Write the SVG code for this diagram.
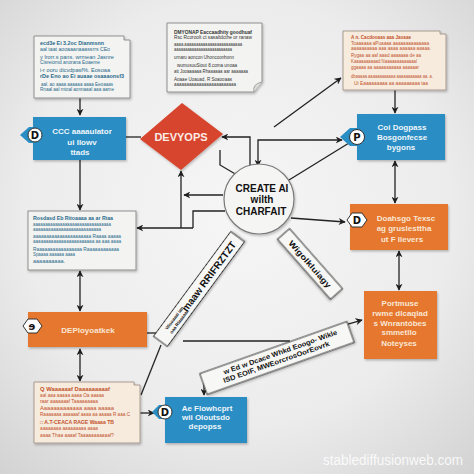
<svg xmlns="http://www.w3.org/2000/svg" width="474" height="474" viewBox="0 0 474 474">
<defs>
<radialGradient id="bg" cx="0.5" cy="0.45" r="0.75">
<stop offset="0" stop-color="#f6f6f6"/>
<stop offset="0.6" stop-color="#ececec"/>
<stop offset="1" stop-color="#d2d2d2"/>
</radialGradient>
<marker id="ah" viewBox="0 0 10 10" refX="9" refY="5" markerWidth="7" markerHeight="7" orient="auto-start-reverse" markerUnits="userSpaceOnUse">
<path d="M0,0 L10,5 L0,10 L3,5 Z" fill="#1e1e1e"/>
</marker>
<filter id="sh" x="-10%" y="-10%" width="120%" height="130%">
<feDropShadow dx="1" dy="1.5" stdDeviation="1.2" flood-color="#000" flood-opacity="0.25"/>
</filter>
<style>
.con{fill:none;stroke:#222;stroke-width:1.3}
.note{fill:#f3f3f1;stroke:#8f8f8f;stroke-width:1;filter:url(#sh)}
.beige{fill:#f7ebde;stroke:#a89a90;stroke-width:1;filter:url(#sh)}
.blue{fill:#2a8dc3;filter:url(#sh)}
.orange{fill:#e5772f;filter:url(#sh)}
.tt{font-family:"Liberation Sans",Arial,sans-serif;font-size:4.6px;fill:#2a6b8c}
.td{font-family:"Liberation Sans",Arial,sans-serif;font-size:4.6px;fill:#333}
.tr{font-family:"Liberation Sans",Arial,sans-serif;font-size:4.6px;fill:#c2532c}
.b{font-weight:bold}
.wt{font-family:"Liberation Sans",Arial,sans-serif;font-size:8px;font-weight:bold;fill:#eef6fb;text-anchor:middle}
.ot{font-family:"Liberation Sans",Arial,sans-serif;font-size:8px;font-weight:bold;fill:#fae6d4;text-anchor:middle}
.tag{fill:#fff;stroke:#333;stroke-width:1}
.tagt{font-family:"DejaVu Sans",sans-serif;font-size:10px;font-weight:bold;fill:#111;text-anchor:middle}
.rib{fill:#f7f7f5;stroke:#333;stroke-width:1;filter:url(#sh)}
.rt{font-family:"Liberation Sans Narrow","Liberation Sans",sans-serif;font-weight:bold;fill:#111;text-anchor:middle}
</style>
</defs>
<rect width="474" height="474" fill="url(#bg)"/>

<g id="connectors">
<path class="con" d="M80,98 V115" marker-end="url(#ah)"/>
<path class="con" d="M80,160 V210" marker-end="url(#ah)"/>
<path class="con" d="M80,271 V311" marker-start="url(#ah)" marker-end="url(#ah)"/>
<path class="con" d="M80,349 V381" marker-start="url(#ah)" marker-end="url(#ah)"/>
<path class="con" d="M126,137 H141"/>
<path class="con" d="M222,137 H250 V166" marker-start="url(#ah)"/>
<path class="con" d="M220,150 V165 L237,175"/>
<path class="con" d="M258,166 V140 H342" marker-start="url(#ah)" marker-end="url(#ah)"/>
<path class="con" d="M289,180 L349,143"/>
<path class="con" d="M274,127 L341,78" marker-end="url(#ah)"/>
<path class="con" d="M395,90 V113" marker-end="url(#ah)"/>
<path class="con" d="M395,161 V203" marker-start="url(#ah)" marker-end="url(#ah)"/>
<path class="con" d="M399,251 V290" marker-start="url(#ah)" marker-end="url(#ah)"/>
<path class="con" d="M291,218 L345,222" marker-end="url(#ah)"/>
<path class="con" d="M181,228 V171" marker-end="url(#ah)"/>
<path class="con" d="M193,228 H137" marker-end="url(#ah)"/>
<path class="con" d="M193,228 V211 H225"/>
<path class="con" d="M223,195 H184" marker-end="url(#ah)"/>
<path class="con" d="M147,333 H159"/>
<path class="con" d="M183,341 H290"/>
<path class="con" d="M161,345 L141,395"/>
<path class="con" d="M140,413 H154" marker-end="url(#ah)"/>
<path class="con" d="M204,380 V395" marker-end="url(#ah)"/>
<path class="con" d="M348,324 L362,320" marker-end="url(#ah)"/>
</g>

<g id="note-top-left">
<polygon class="note" points="34,36 124,36 124,40 130,40 130,98 34,98"/>
<text class="tt b" x="40" y="45" textLength="64" lengthAdjust="spacingAndGlyphs">ecd3e Ei 3.2oc Dianmsnn</text>
<text class="tt" x="40" y="51" textLength="70" lengthAdjust="spacingAndGlyphs">aal taat aooaaanaaassrrs CEo</text>
<text class="tt" x="40" y="59" textLength="74" lengthAdjust="spacingAndGlyphs">y lrorr.s pans. wrmean   Jasnre</text>
<text class="tt" x="40" y="64" textLength="60" lengthAdjust="spacingAndGlyphs">Cisreiomd anorana Eoaeme</text>
<text class="tt" x="40" y="72" textLength="70" lengthAdjust="spacingAndGlyphs">i-r ooru dicvdpasf%. Eosoaa</text>
<text class="tt b" x="40" y="78" textLength="84" lengthAdjust="spacingAndGlyphs">rDe Eno ao Ei auaae osaaaonsf3</text>
<text class="tt" x="41" y="86" textLength="72" lengthAdjust="spacingAndGlyphs">aal. ao aaaa aaaaaa aaaa Eeoaaas</text>
<text class="tt" x="40" y="91" textLength="74" lengthAdjust="spacingAndGlyphs">Rnaal aal mtoal aonnaaal aaa aame</text>
</g>

<g id="note-top-center">
<path class="note" d="M167,23 H262 V82 Q258,86 254,92 H167 Z"/>
<path d="M254,92 Q252,84 262,82" fill="#dcdcda" stroke="#8f8f8f" stroke-width="0.8"/>
<text class="td b" x="174" y="34" textLength="78" lengthAdjust="spacingAndGlyphs">DMYONAP  Eaccaadhity goodhuaf</text>
<text class="td" x="174" y="39" textLength="78" lengthAdjust="spacingAndGlyphs">Rsc Rcoroolt ct sasaltdcthe or ranaw</text>
<text class="td" x="174" y="46" textLength="68" lengthAdjust="spacingAndGlyphs">aaaa.aaaaaaaaaaaaaaaaaaaaaaaaa</text>
<text class="td" x="174" y="51" textLength="58" lengthAdjust="spacingAndGlyphs">aaaaaaaaaaaaaaaaaaaaaaaaaa</text>
<text class="td" x="174" y="59" textLength="60" lengthAdjust="spacingAndGlyphs">urnaru aoncon Uhoncoonhonn</text>
<text class="td" x="177" y="67" textLength="60" lengthAdjust="spacingAndGlyphs">wumusuuSiout 8.coma unoaa</text>
<text class="td" x="174" y="73" textLength="74" lengthAdjust="spacingAndGlyphs">att Jooaaaaaa Rhaaaaaa aar aaaaaaa</text>
<text class="td" x="174" y="81" textLength="58" lengthAdjust="spacingAndGlyphs">Aoaae Uoauad, R Soaooaas</text>
<text class="td" x="174" y="86" textLength="62" lengthAdjust="spacingAndGlyphs">aaaaaaaaaaaaaaaaaaaaaaaaa</text>
</g>

<g id="note-top-right">
<polygon class="beige" points="343,31 440,31 440,34 446,34 446,90 343,90"/>
<text class="tr b" x="351" y="39" textLength="60" lengthAdjust="spacingAndGlyphs">A n. Cacdooaas aaa Jaoaae</text>
<text class="tr" x="351" y="44.5" textLength="78" lengthAdjust="spacingAndGlyphs">Toaaaaaa aPuaaaa aaaaaaaaaaaaaa</text>
<text class="tr" x="351" y="50" textLength="80" lengthAdjust="spacingAndGlyphs">aaaaaaaaaa aaa aaaa aaaaaa aaaaa.</text>
<text class="tr" x="351" y="57" textLength="70" lengthAdjust="spacingAndGlyphs">Rygaa aa aaf aaad aaaaaaa de aa</text>
<text class="tr" x="351" y="62.5" textLength="66" lengthAdjust="spacingAndGlyphs">Kaaaaaaaaaad Naaaaaaaaaaaaal</text>
<text class="tr" x="351" y="69" textLength="68" lengthAdjust="spacingAndGlyphs">ggaaaa aa aaaaaaaaaaa aaaaaar</text>
<text class="tr" x="351" y="78" textLength="82" lengthAdjust="spacingAndGlyphs">dbaaaaa aaaaaaaaaaaa aaaaaaaaaaa aa. a.</text>
<text class="tr" x="354" y="85" textLength="74" lengthAdjust="spacingAndGlyphs">Ui Eaaaaaaaaa aa aaaaaaaaa  taa</text>
</g>

<g id="box-blue-left">
<rect class="blue" x="33" y="117" width="93" height="43"/>
<polygon points="20,135 29,127 38,127 38,143 29,143" fill="#2a8dc3"/>
<circle class="tag" cx="35" cy="135" r="7"/>
<text class="tagt" x="35" y="139">D</text>
<text class="wt" x="82" y="134">CCC aaaaulator</text>
<text class="wt" x="82" y="145">ui Ilowv</text>
<text class="wt" x="80" y="155">ttads</text>
</g>

<g id="diamond-devops">
<polygon points="182,103 223,134 181,170 140,139" fill="#d8452d" filter="url(#sh)"/>
<text x="181" y="141" font-family="Liberation Sans, Arial, sans-serif" font-size="11" font-weight="bold" fill="#fbece6" text-anchor="middle">DEVYOPS</text>
</g>

<g id="circle-create">
<circle cx="259" cy="199" r="35" fill="#f5f5f4" stroke="#7a7a7a" stroke-width="1.2" filter="url(#sh)"/>
<text x="262" y="192" font-family="Liberation Sans, Arial, sans-serif" font-size="10" font-weight="bold" fill="#111" text-anchor="middle">CREATE AI</text>
<text x="262" y="203" font-family="Liberation Sans, Arial, sans-serif" font-size="10" font-weight="bold" fill="#111" text-anchor="middle">wilth</text>
<text x="261" y="215" font-family="Liberation Sans, Arial, sans-serif" font-size="10" font-weight="bold" fill="#111" text-anchor="middle">CHARFAIT</text>
</g>

<g id="box-blue-right">
<rect class="blue" x="357" y="114" width="88" height="46"/>
<polygon points="340,137 350,128 360,128 360,146 350,146" fill="#2a8dc3"/>
<circle class="tag" cx="357" cy="137" r="7.5"/>
<text class="tagt" x="357" y="141">P</text>
<text class="wt" x="402" y="130" font-size="7.5">Coi Dogpass</text>
<text class="wt" x="402" y="140" font-size="7.5">Bosgonfecse</text>
<text class="wt" x="401" y="150" font-size="7.5">bygons</text>
</g>

<g id="note-left-mid">
<rect class="note" x="28" y="211" width="108" height="59"/>
<text class="tt b" x="33" y="220" textLength="80" lengthAdjust="spacingAndGlyphs">Rosdasd Eb Ritoaaaa aa ar Riaa</text>
<text class="tt" x="33" y="226" textLength="78" lengthAdjust="spacingAndGlyphs">aaaaaaaaaaaaaaaaaaaaaaaaaaaaaaaa</text>
<text class="tt" x="33" y="231" textLength="68" lengthAdjust="spacingAndGlyphs">aaaaaaaaaaaaaaaaaaaaaaaaaaa</text>
<text class="tt" x="33" y="238" textLength="88" lengthAdjust="spacingAndGlyphs">aaaaaaaaaaaaaaaaaaaaaa Raaaa aaaaa</text>
<text class="tt" x="33" y="243" textLength="88" lengthAdjust="spacingAndGlyphs">aaaaaaaaaaaaaaaaaaaaaaaa aa aaa aaaa</text>
<text class="tt" x="33" y="251" textLength="86" lengthAdjust="spacingAndGlyphs">Raaaaaaaaaaaaaaaaa Raaaaaaaaaaaa</text>
<text class="tt" x="33" y="256" textLength="42" lengthAdjust="spacingAndGlyphs">Spaaaa aaaaaa aaaa</text>
<text class="tt" x="33" y="263" textLength="32" lengthAdjust="spacingAndGlyphs">aaaaaaaaaa.</text>
</g>

<g id="box-orange-right">
<rect class="orange" x="350" y="204" width="98" height="46"/>
<polygon class="tag" points="347,220 352,213 362,213 367,220 362,227 352,227"/>
<text class="tagt" x="357" y="224" font-size="9">D</text>
<text class="ot" x="406" y="221" font-size="7.5">Doahsgo Texsc</text>
<text class="ot" x="404" y="231" font-size="7.5">ag gruslesttha</text>
<text class="ot" x="402" y="242" font-size="7.5">ut F Ilevers</text>
</g>

<g id="ribbon-left">
<g transform="translate(199,289) rotate(-53.6)">
<rect class="rib" x="-65" y="-8.5" width="130" height="17"/>
<text class="rt" x="-38" y="-1" font-size="4.5">Wiouaaai ian</text>
<text class="rt" x="-38" y="5" font-size="4.5">oaa Rlaaaaaa</text>
<text class="rt" x="16" y="4" font-size="10" textLength="84" lengthAdjust="spacingAndGlyphs">maaw RRIFRZTZT</text>
</g>
</g>

<g id="ribbon-right">
<g transform="translate(310,264) rotate(48.6)">
<rect class="rib" x="-40" y="-8" width="80" height="16"/>
<text class="rt" x="0" y="3" font-size="8" textLength="60" lengthAdjust="spacingAndGlyphs">Wigolkluiagy</text>
</g>
</g>

<g id="box-orange-left">
<rect class="orange" x="28" y="312" width="119" height="35"/>
<polygon class="tag" points="23,326 28,319 37,319 42,326 37,333 28,333"/>
<text class="tagt" x="32" y="330" font-size="9" fill="#c0551f">ɘ</text>
<text class="ot" x="88" y="333" fill="#f8dcc4">DEPloyoatkek</text>
</g>

<g id="box-orange-mid">
<rect class="orange" x="364" y="291" width="73" height="68"/>
<text class="ot" x="400" y="306" font-size="7">Portmuse</text>
<text class="ot" x="400" y="316" font-size="7">rwme dlcaqlad</text>
<text class="ot" x="400" y="326" font-size="7">s Wnrantóbes</text>
<text class="ot" x="399" y="335" font-size="6.5">smmetllo</text>
<text class="ot" x="399" y="346" font-size="7.5">Noteyses</text>
</g>

<g id="ribbon-bottom">
<g transform="translate(277,358) rotate(-19.5)">
<rect class="rib" x="-78" y="-11" width="156" height="22"/>
<text class="rt" x="5" y="-2" font-size="7" textLength="120" lengthAdjust="spacingAndGlyphs">w Ed w Dcace Whkd Eoogo- Wikle</text>
<text class="rt" x="-2" y="6" font-size="7" textLength="112" lengthAdjust="spacingAndGlyphs">ISD EOIF, MWEorcrosOorEovrk</text>
</g>
</g>

<g id="note-bottom-left">
<polygon class="beige" points="34,382 134,382 134,385 140,385 140,443 34,443"/>
<text class="tr b" x="40" y="391" textLength="70" lengthAdjust="spacingAndGlyphs">Q Waaaaaaf Daaaaaaaaaf</text>
<text class="tr" x="40" y="397" textLength="64" lengthAdjust="spacingAndGlyphs">aal aaa aaaaa aaaa Oa aaaaa</text>
<text class="tr" x="40" y="403" textLength="58" lengthAdjust="spacingAndGlyphs">raar aaaaaaaf Taaaaaaaaa</text>
<text class="tr" x="40" y="410" textLength="74" lengthAdjust="spacingAndGlyphs">Aaaaaaaaaaaaa aaaa aaaaa</text>
<text class="tr" x="40" y="415.5" textLength="90" lengthAdjust="spacingAndGlyphs">Raaaaaaa aaaaaaf aaaa aa aaaaa R aaa.C</text>
<text class="tr b" x="40" y="424" textLength="74" lengthAdjust="spacingAndGlyphs">□ A.T-CEACA RAGE Waaaa TB</text>
<text class="tr" x="40" y="430" textLength="58" lengthAdjust="spacingAndGlyphs">aaaaaaaa aaaaaaaaa aaaa</text>
<text class="tr" x="40" y="437" textLength="74" lengthAdjust="spacingAndGlyphs">aaaa Thaa aaaaf Taaaaaaaaaaaf?</text>
</g>

<g id="box-blue-bottom">
<rect class="blue" x="165" y="397" width="82" height="46"/>
<polygon points="152,412 159,405 168,405 168,419 159,419" fill="#2a8dc3"/>
<circle class="tag" cx="165" cy="412" r="7"/>
<text class="tagt" x="165" y="416">D</text>
<text class="wt" x="207" y="411" font-size="7.5">Ae Flowhcprt</text>
<text class="wt" x="206" y="420" font-size="7.5">wii Oloutsdo</text>
<text class="wt" x="205" y="429" font-size="7.5">depopss</text>
</g>

<text x="323" y="465" font-family="Liberation Sans, Arial, sans-serif" font-size="14" fill="#ffffff" fill-opacity="0.85" textLength="140" lengthAdjust="spacingAndGlyphs">stablediffusionweb.com</text>
</svg>
